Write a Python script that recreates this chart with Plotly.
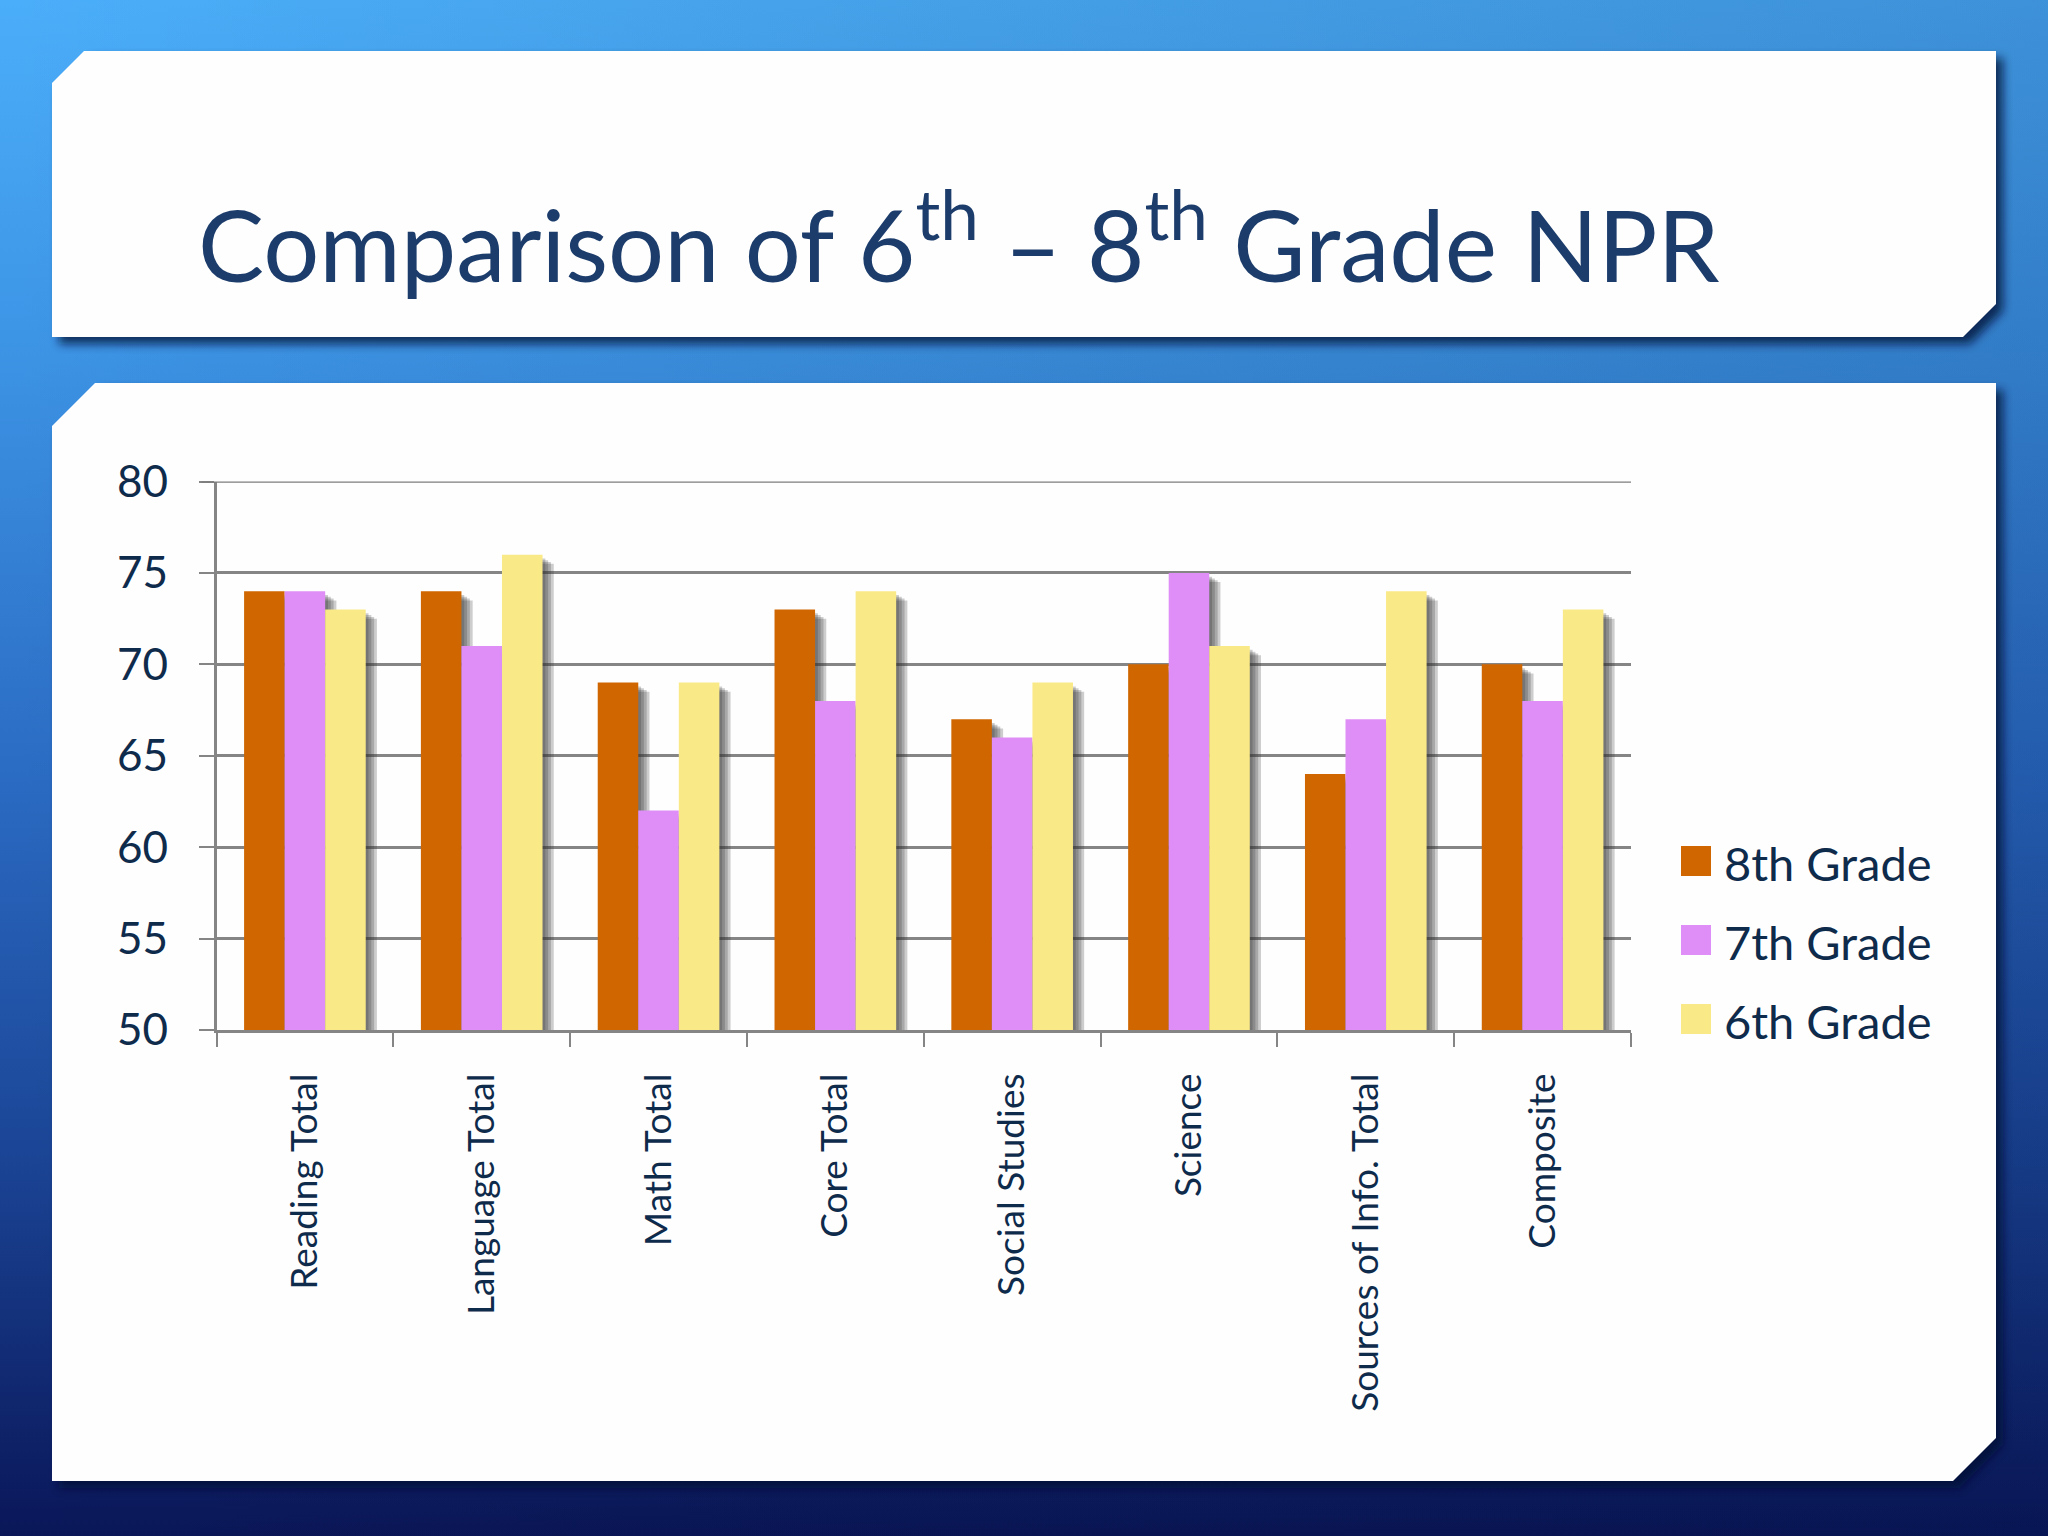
import base64
import plotly.graph_objects as go

# ---------------- data ----------------
categories = ["Reading Total", "Language Total", "Math Total", "Core Total",
              "Social Studies", "Science", "Sources of Info. Total", "Composite"]
grade8 = [74, 74, 69, 73, 67, 70, 64, 70]
grade7 = [74, 71, 62, 68, 66, 75, 67, 68]
grade6 = [73, 76, 69, 74, 69, 71, 74, 73]
series_names = ["8th Grade", "7th Grade", "6th Grade"]
series_colors = ["#CF6600", "#DE8EF6", "#FAE987"]
y_ticks = [50, 55, 60, 65, 70, 75, 80]
title_text = "Comparison of 6<sup>th</sup> – 8<sup>th</sup> Grade NPR"

W, H = 2048, 1536
TEXT = "#0F2B4C"
FONT = "Lato"

def fx(px):
    return px / W

def fy(px):
    return 1 - px / H

# ---------------- background (slide) ----------------
title_panel = "M 84 51 L 1996 51 L 1996 304 L 1963 337 L 52 337 L 52 83 Z"
chart_panel = "M 95 383 L 1996 383 L 1996 1438 L 1953 1481 L 52 1481 L 52 426 Z"
svg = f'''<svg xmlns="http://www.w3.org/2000/svg" width="{W}" height="{H}" viewBox="0 0 {W} {H}">
<defs>
<linearGradient id="bg" x1="0" y1="0" x2="0" y2="1">
<stop offset="0" stop-color="#4BAEFA"/>
<stop offset="0.22" stop-color="#3D95E6"/>
<stop offset="0.5" stop-color="#2B6CC4"/>
<stop offset="0.75" stop-color="#1B4596"/>
<stop offset="1" stop-color="#0A1658"/>
</linearGradient>
<linearGradient id="hz" x1="0" y1="0" x2="1" y2="0">
<stop offset="0" stop-color="#000000" stop-opacity="0"/>
<stop offset="1" stop-color="#001040" stop-opacity="0.18"/>
</linearGradient>
<filter id="blur" x="-5%" y="-5%" width="110%" height="110%"><feGaussianBlur stdDeviation="5"/></filter>
</defs>
<rect width="{W}" height="{H}" fill="url(#bg)"/>
<rect width="{W}" height="{H}" fill="url(#hz)"/>
<path d="{title_panel}" fill="#020A30" opacity="0.75" filter="url(#blur)" transform="translate(7,7)"/>
<path d="{chart_panel}" fill="#020A30" opacity="0.75" filter="url(#blur)" transform="translate(7,7)"/>
<path d="{title_panel}" fill="#FEFEFE"/>
<path d="{chart_panel}" fill="#FEFEFE"/>
</svg>'''
svg_uri = "data:image/svg+xml;base64," + base64.b64encode(svg.encode("utf-8")).decode("ascii")

# ---------------- figure ----------------
fig = go.Figure()

x0_px, x1_px = 216.5, 1631.0
y_top_px, y_bot_px = 481.5, 1030.0
cat_px = (x1_px - x0_px) / len(categories)
unit_px = (y_bot_px - y_top_px) / (y_ticks[-1] - y_ticks[0])

bar_w = 0.2293
start = -1.5 * bar_w
all_series = [grade8, grade7, grade6]

# soft drop shadows behind the bars
for k in (1, 2, 3, 4):
    dx = 2.8 * k / cat_px
    drop = (2 + 1.8 * k) / unit_px
    for i, vals in enumerate(all_series):
        fig.add_trace(go.Bar(
            x=categories, y=[v - drop for v in vals],
            offset=start + i * bar_w + dx, width=bar_w,
            marker=dict(color="rgba(50,50,50,0.24)", line=dict(width=0)),
            showlegend=False, hoverinfo="skip"))

for i, (name, vals, color) in enumerate(zip(series_names, all_series, series_colors)):
    fig.add_trace(go.Bar(
        x=categories, y=vals, name=name,
        offset=start + i * bar_w, width=bar_w,
        marker=dict(color=color, line=dict(width=0)),
        showlegend=False))

grid = "#858585"

# top gridline (plotly omits the grid line at the range edge)
fig.add_shape(type="line", xref="x domain", yref="y", x0=-15 / (x1_px - x0_px), x1=1,
              y0=y_ticks[-1], y1=y_ticks[-1], line=dict(color="#7C7C7C", width=2.5))

# manual legend (large swatches)
legend_y = [861, 940, 1019]
for name, color, yc in zip(series_names, series_colors, legend_y):
    fig.add_shape(type="rect", xref="paper", yref="paper",
                  x0=fx(1681), x1=fx(1711), y0=fy(yc + 15), y1=fy(yc - 15),
                  fillcolor=color, line=dict(width=0))
    fig.add_annotation(text=name, xref="paper", yref="paper",
                       x=fx(1722), y=fy(yc + 2), xanchor="left", yanchor="middle",
                       showarrow=False, font=dict(family=FONT, size=47, color=TEXT))

# title
fig.add_annotation(text=title_text, xref="paper", yref="paper",
                   x=fx(196), y=fy(238), xanchor="left", yanchor="middle",
                   showarrow=False, font=dict(family=FONT, size=99, color="#1C3D6C"))

fig.update_layout(
    width=W, height=H,
    margin=dict(l=0, r=0, t=0, b=0),
    paper_bgcolor="#0A1658", plot_bgcolor="rgba(0,0,0,0)",
    barmode="overlay",
    images=[dict(source=svg_uri, xref="paper", yref="paper", x=0, y=1,
                 sizex=1, sizey=1, xanchor="left", yanchor="top",
                 sizing="stretch", layer="below")],
    xaxis=dict(domain=[fx(x0_px), fx(x1_px)], type="category",
               range=[-0.5, len(categories) - 0.5],
               showline=True, linecolor=grid, linewidth=2.5,
               ticks="outside", tickson="boundaries", ticklen=14,
               tickcolor=grid, tickwidth=2, tickangle=-90,
               tickfont=dict(family=FONT, size=37, color=TEXT),
               ticklabelstandoff=26, showgrid=False, automargin=False),
    yaxis=dict(domain=[fy(y_bot_px), fy(y_top_px)], range=[y_ticks[0], y_ticks[-1]],
               tickvals=y_ticks, ticktext=[str(t) for t in y_ticks],
               showgrid=True, gridcolor=grid, gridwidth=2.5,
               showline=True, linecolor=grid, linewidth=2.5,
               ticks="outside", ticklen=15, tickcolor=grid, tickwidth=2,
               tickfont=dict(family=FONT, size=44, color=TEXT),
               ticklabelstandoff=22, zeroline=False, automargin=False),
)

fig.write_html("out.html")
